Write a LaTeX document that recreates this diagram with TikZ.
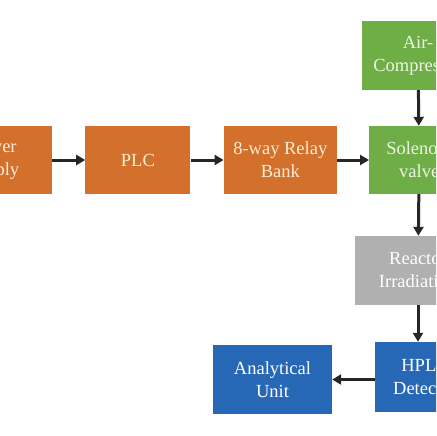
\documentclass[tikz,border=0pt]{standalone}
\usepackage{fontspec}
\setmainfont{Liberation Serif}
\usepackage{xcolor}
\usetikzlibrary{positioning, arrows.meta}
\definecolor{boxorange}{RGB}{210,112,44}
\definecolor{boxgreen}{RGB}{111,173,71}
\definecolor{boxgray}{RGB}{176,176,176}
\definecolor{boxblue}{RGB}{38,104,181}
\definecolor{txtcream}{RGB}{253,236,214}
\definecolor{txtgreen}{RGB}{236,246,226}
\tikzset{
  block/.style={rectangle, minimum height=68pt, inner sep=0pt, align=center,
    font=\fontsize{18.5}{23}\selectfont},
  orangebox/.style={block, fill=boxorange, text=txtcream},
  greenbox/.style={block, fill=boxgreen, text=txtgreen},
  graybox/.style={block, fill=boxgray, text=white},
  bluebox/.style={block, fill=boxblue, text=white},
  flow/.style={-{Triangle[length=9pt,width=10pt]}, line width=3pt, black!85}
}
\begin{document}
\begin{tikzpicture}[x=1pt, y=-1pt]
\useasboundingbox (0,0) rectangle (436,436);
\clip (0,0) rectangle (436,436);
% nodes %
\node[orangebox, minimum width=118pt] (ps) at (-7,160) {Power\\Supply};
\node[orangebox, minimum width=105pt, right=33pt of ps] (plc) {PLC};
\node[orangebox, minimum width=113pt, right=33pt of plc] (relay) {8-way Relay\\Bank};
\node[greenbox, minimum width=100pt, right=32pt of relay] (sol) {Solenoid\\valve};
\node[greenbox, minimum width=112pt, minimum height=69pt] (air) at (418,55.5) {Air-\\Compressor};
\node[graybox, minimum width=126pt, minimum height=69pt] (reac) at (418,270.5) {Reactor\\Irradiation};
\node[bluebox, minimum width=100pt, minimum height=70pt] (hplc) at (425,377) {HPLC\\Detector};
\node[bluebox, minimum width=119pt, minimum height=69pt] (anal) at (272.5,379.5) {Analytical\\Unit};
% edges %
\draw[flow] (ps) -- (plc);
\draw[flow] (plc) -- (relay);
\draw[flow] (relay) -- (sol);
\draw[flow] (air) -- (sol);
\draw[flow] (sol) -- (reac);
\draw[flow] (reac.south) -- (reac.south |- hplc.north);
\draw[flow] (hplc.west |- anal) -- (anal);
\end{tikzpicture}
\end{document}
